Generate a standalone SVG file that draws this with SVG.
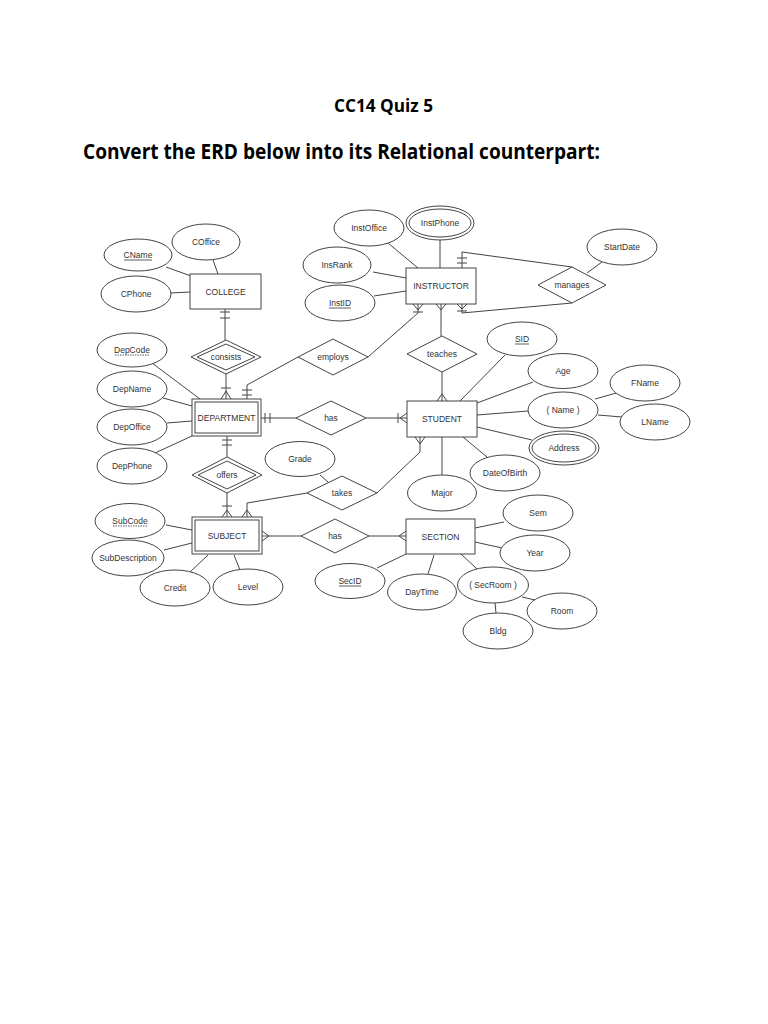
<svg xmlns="http://www.w3.org/2000/svg" width="768" height="1024" viewBox="0 0 768 1024">
<style>
.bg{fill:#fff}
.sh{fill:#fff;stroke:#444;stroke-width:1}
.ln{fill:none;stroke:#444;stroke-width:1}
.t{font-family:"Liberation Sans",Arial,sans-serif;font-size:8.5px;fill:#333;text-anchor:middle;dominant-baseline:central}
.h1{font-family:"Open Sans","Noto Sans",sans-serif;font-weight:bold;fill:#000}
.u{stroke:#333;stroke-width:0.8}
.ud{stroke:#333;stroke-width:0.8;stroke-dasharray:1.5 1}
</style>
<rect class="bg" x="0" y="0" width="768" height="1024"/>
<text class="h1" x="383.5" y="112" font-size="17" text-anchor="middle" textLength="99" lengthAdjust="spacingAndGlyphs">CC14 Quiz 5</text>
<text class="h1" x="83" y="159" font-size="22" textLength="517" lengthAdjust="spacingAndGlyphs">Convert the ERD below into its Relational counterpart:</text>

<g id="connectors">
  <!-- COLLEGE - consists -->
  <path class="ln" d="M225,309 V340 M220,312 H230 M220,318 H230"/>
  <!-- consists - DEPARTMENT -->
  <path class="ln" d="M226,374 V399 M221,388 H231 M226,391 L221,399 M226,391 L231,399"/>
  <!-- DEPARTMENT - employs -->
  <path class="ln" d="M247,399 V385 L298,357 M242,390 H252 M242,395 H252"/>
  <!-- employs - INSTRUCTOR -->
  <path class="ln" d="M368,357 L418,313 V304 M413,312 H423 M418,310 L413,304 M418,310 L423,304"/>
  <!-- INSTRUCTOR - teaches -->
  <path class="ln" d="M441,304 V336 M441,310 L436,304 M441,310 L446,304"/>
  <!-- teaches - STUDENT -->
  <path class="ln" d="M442,372 V401 M442,394 L437,401 M442,394 L447,401"/>
  <!-- INSTRUCTOR - manages (top) -->
  <path class="ln" d="M462,268 V252 L572,267 M457,258 H467 M457,263 H467"/>
  <!-- INSTRUCTOR - manages (bottom) -->
  <path class="ln" d="M462,304 V313 L572,303 M457,311 H467 M462,309 L457,304 M462,309 L467,304"/>
  <!-- DEPARTMENT - has - STUDENT -->
  <path class="ln" d="M261,418 H296 M265,413 V423 M270,413 V423"/>
  <path class="ln" d="M366,418 H407 M398,413 V423 M400,418 L407,413 M400,418 L407,423"/>
  <!-- DEPARTMENT - offers - SUBJECT -->
  <path class="ln" d="M227,436 V457 M222,440 H232 M222,445 H232"/>
  <path class="ln" d="M227,493 V517 M222,506 H232 M227,510 L222,517 M227,510 L232,517"/>
  <!-- STUDENT - takes - SUBJECT -->
  <path class="ln" d="M420,437 V452 L377,493 M420,444 L415,437 M420,444 L425,437"/>
  <path class="ln" d="M307,493 L247,503 V517 M247,510 L242,517 M247,510 L252,517"/>
  <!-- SUBJECT - has - SECTION -->
  <path class="ln" d="M262,536 H301 M269,536 L262,531 M269,536 L262,541"/>
  <path class="ln" d="M369,536 H406 M399,536 L406,531 M399,536 L406,541"/>
  <!-- attribute lines -->
  <path class="ln" d="M166,267 L191,276 M213,260 L218,274 M170,293 L190,292"/>
  <path class="ln" d="M388,243 L418,268 M440,240 V268 M373,272 L406,278 M374,296 L406,291"/>
  <path class="ln" d="M587,273 L602,262 M320,475 L328,482"/>
  <path class="ln" d="M152,363 L200,399 M163,398 L192,406 M167,423 L192,421 M155,453 L192,436"/>
  <path class="ln" d="M505,355 L460,401 M533,382 L477,403 M528,411 L477,415 M532,440 L477,427 M463,437 L487,457 M442,437 V475 M595,399 L620,392 M598,415 L622,417"/>
  <path class="ln" d="M166,525 L192,530 M164,550 L192,543 M190,572 L208,555 M240,570 L234,555"/>
  <path class="ln" d="M377,568 L406,554 M428,574 L434,555 M475,528 L504,522 M475,542 L502,548 M461,554 L477,569 M522,597 L535,600 M495,603 L496,613"/>
</g>

<g id="COLLEGE"><rect class="sh" x="190" y="274" width="71" height="35"/><text class="t" x="225.5" y="292">COLLEGE</text></g>
<g id="CName"><ellipse class="sh" cx="138" cy="255" rx="34" ry="16"/><text class="t" x="138" y="255">CName</text><line class="u" x1="124" y1="260" x2="152" y2="260"/></g>
<g id="COffice"><ellipse class="sh" cx="206" cy="242" rx="34" ry="18"/><text class="t" x="206" y="242">COffice</text></g>
<g id="CPhone"><ellipse class="sh" cx="136" cy="294" rx="35" ry="18"/><text class="t" x="136" y="294">CPhone</text></g>

<g id="consists"><polygon class="sh" points="191,357 226,340 261,357 226,374"/><polygon class="sh" points="197,357 226,344 255,357 226,370"/><text class="t" x="226" y="357">consists</text></g>

<g id="INSTRUCTOR"><rect class="sh" x="406" y="268" width="70" height="36"/><text class="t" x="441" y="286">INSTRUCTOR</text></g>
<g id="InstOffice"><ellipse class="sh" cx="369" cy="228" rx="35" ry="18"/><text class="t" x="369" y="228">InstOffice</text></g>
<g id="InstPhone"><ellipse class="sh" cx="440" cy="223" rx="34" ry="17"/><ellipse class="sh" cx="440" cy="223" rx="31" ry="14"/><text class="t" x="440" y="223">InstPhone</text></g>
<g id="InsRank"><ellipse class="sh" cx="337" cy="265" rx="34" ry="18"/><text class="t" x="337" y="265">InsRank</text></g>
<g id="InstID"><ellipse class="sh" cx="340" cy="303" rx="35" ry="18"/><text class="t" x="340" y="303">InstID</text><line class="u" x1="329" y1="308" x2="351" y2="308"/></g>

<g id="manages"><polygon class="sh" points="538,285 572,267 606,285 572,303"/><text class="t" x="572" y="285">manages</text></g>
<g id="StartDate"><ellipse class="sh" cx="622" cy="247" rx="35" ry="18"/><text class="t" x="622" y="247">StartDate</text></g>

<g id="employs"><polygon class="sh" points="298,357 333,339 368,357 333,375"/><text class="t" x="333" y="357">employs</text></g>
<g id="teaches"><polygon class="sh" points="407,354 442,336 477,354 442,372"/><text class="t" x="442" y="354">teaches</text></g>

<g id="DEPARTMENT"><rect class="sh" x="192" y="399" width="69" height="37"/><rect class="sh" x="195" y="402" width="63" height="31"/><text class="t" x="226.5" y="418">DEPARTMENT</text></g>
<g id="DepCode"><ellipse class="sh" cx="132" cy="350" rx="35" ry="17"/><text class="t" x="132" y="350">DepCode</text><line class="ud" x1="115" y1="355" x2="149" y2="355"/></g>
<g id="DepName"><ellipse class="sh" cx="132" cy="389" rx="35" ry="18"/><text class="t" x="132" y="389">DepName</text></g>
<g id="DepOffice"><ellipse class="sh" cx="132" cy="427" rx="35" ry="18"/><text class="t" x="132" y="427">DepOffice</text></g>
<g id="DepPhone"><ellipse class="sh" cx="132" cy="466" rx="35" ry="18"/><text class="t" x="132" y="466">DepPhone</text></g>

<g id="has1"><polygon class="sh" points="296,418 331,401 366,418 331,435"/><text class="t" x="331" y="418">has</text></g>

<g id="STUDENT"><rect class="sh" x="407" y="401" width="70" height="36"/><text class="t" x="442" y="419">STUDENT</text></g>
<g id="SID"><ellipse class="sh" cx="522" cy="339" rx="35" ry="17"/><text class="t" x="522" y="339">SID</text><line class="u" x1="515" y1="344" x2="529" y2="344"/></g>
<g id="Age"><ellipse class="sh" cx="563" cy="371" rx="35" ry="17.5"/><text class="t" x="563" y="371">Age</text></g>
<g id="Name"><ellipse class="sh" cx="563" cy="410" rx="35" ry="18"/><text class="t" x="563" y="410">( Name )</text></g>
<g id="FName"><ellipse class="sh" cx="645" cy="383" rx="35" ry="18"/><text class="t" x="645" y="383">FName</text></g>
<g id="LName"><ellipse class="sh" cx="655" cy="422" rx="35" ry="18"/><text class="t" x="655" y="422">LName</text></g>
<g id="Address"><ellipse class="sh" cx="564" cy="448" rx="35" ry="17"/><ellipse class="sh" cx="564" cy="448" rx="32" ry="14"/><text class="t" x="564" y="448">Address</text></g>
<g id="DateOfBirth"><ellipse class="sh" cx="505" cy="473" rx="35" ry="18"/><text class="t" x="505" y="473">DateOfBirth</text></g>
<g id="Major"><ellipse class="sh" cx="442" cy="493" rx="34.5" ry="18"/><text class="t" x="442" y="493">Major</text></g>

<g id="offers"><polygon class="sh" points="192,475 227,457 262,475 227,493"/><polygon class="sh" points="198,475 227,461 256,475 227,489"/><text class="t" x="227" y="475">offers</text></g>
<g id="Grade"><ellipse class="sh" cx="300" cy="459" rx="35" ry="17.5"/><text class="t" x="300" y="459">Grade</text></g>
<g id="takes"><polygon class="sh" points="307,493 342,476 377,493 342,510"/><text class="t" x="342" y="493">takes</text></g>

<g id="SUBJECT"><rect class="sh" x="192" y="517" width="70" height="37"/><rect class="sh" x="195" y="520" width="64" height="31"/><text class="t" x="227" y="536">SUBJECT</text></g>
<g id="SubCode"><ellipse class="sh" cx="130" cy="521" rx="35" ry="17.5"/><text class="t" x="130" y="521">SubCode</text><line class="ud" x1="113" y1="526" x2="147" y2="526"/></g>
<g id="SubDescription"><ellipse class="sh" cx="128" cy="558" rx="36" ry="18"/><text class="t" x="128" y="558">SubDescription</text></g>
<g id="Credit"><ellipse class="sh" cx="175" cy="588" rx="35" ry="18"/><text class="t" x="175" y="588">Credit</text></g>
<g id="Level"><ellipse class="sh" cx="248" cy="587" rx="35" ry="18"/><text class="t" x="248" y="587">Level</text></g>

<g id="has2"><polygon class="sh" points="301,536 335,519 369,536 335,553"/><text class="t" x="335" y="536">has</text></g>

<g id="SECTION"><rect class="sh" x="406" y="519" width="69" height="35"/><text class="t" x="440.5" y="537">SECTION</text></g>
<g id="SecID"><ellipse class="sh" cx="350" cy="581" rx="35" ry="17.5"/><text class="t" x="350" y="581">SecID</text><line class="u" x1="339" y1="586" x2="361" y2="586"/></g>
<g id="DayTime"><ellipse class="sh" cx="422" cy="592" rx="34.5" ry="18"/><text class="t" x="422" y="592">DayTime</text></g>
<g id="Sem"><ellipse class="sh" cx="538" cy="513" rx="35" ry="18"/><text class="t" x="538" y="513">Sem</text></g>
<g id="Year"><ellipse class="sh" cx="535" cy="553" rx="35" ry="18"/><text class="t" x="535" y="553">Year</text></g>
<g id="SecRoom"><ellipse class="sh" cx="493" cy="585" rx="35.5" ry="18"/><text class="t" x="493" y="585">( SecRoom )</text></g>
<g id="Room"><ellipse class="sh" cx="562" cy="611" rx="35" ry="18"/><text class="t" x="562" y="611">Room</text></g>
<g id="Bldg"><ellipse class="sh" cx="498" cy="631" rx="35" ry="18"/><text class="t" x="498" y="631">Bldg</text></g>
</svg>
